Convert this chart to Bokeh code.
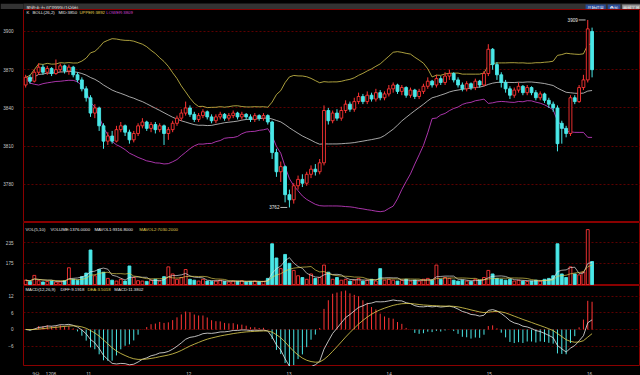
import numpy as np
import pandas as pd
from bokeh.plotting import figure
from bokeh.layouts import column
from bokeh.models import Range1d, FixedTicker
from bokeh.core.properties import value
from bokeh.embed import file_html
from bokeh.resources import INLINE

# ---------------- data (bars) ----------------
opens = [3858, 3864, 3861, 3868, 3872, 3868, 3871, 3867, 3870, 3873, 3869, 3872, 3866, 3862, 3855, 3848, 3836, 3840, 3826, 3814,
         3818, 3814, 3823, 3826, 3821, 3815, 3820, 3826, 3829, 3824, 3827, 3823, 3826, 3820, 3823, 3828, 3832, 3836, 3840, 3835,
         3831, 3834, 3837, 3833, 3830, 3833, 3835, 3832, 3834, 3836, 3833, 3835, 3833, 3831, 3834, 3832, 3834, 3829, 3805, 3790,
         3794, 3772, 3768, 3779, 3784, 3781, 3788, 3792, 3790, 3797, 3838, 3830, 3836, 3832, 3838, 3843, 3839, 3845, 3849, 3845,
         3850, 3847, 3852, 3848, 3851, 3855, 3858, 3853, 3856, 3850, 3854, 3849, 3853, 3857, 3861, 3858, 3863, 3860, 3865, 3867,
         3862, 3858, 3855, 3859, 3856, 3861, 3858, 3867, 3886, 3874, 3866, 3860, 3855, 3850, 3854, 3857, 3852, 3856, 3852, 3848,
         3851, 3846, 3843, 3840, 3828, 3824, 3820, 3848, 3845, 3856, 3862, 3900]
closes = [3864, 3861, 3868, 3872, 3868, 3871, 3867, 3870, 3873, 3869, 3872, 3866, 3862, 3855, 3848, 3836, 3840, 3826, 3814, 3818,
          3814, 3823, 3826, 3821, 3815, 3820, 3826, 3829, 3824, 3827, 3823, 3826, 3820, 3823, 3828, 3832, 3836, 3840, 3835, 3831,
          3834, 3837, 3833, 3830, 3833, 3835, 3832, 3834, 3836, 3833, 3835, 3833, 3831, 3834, 3832, 3834, 3829, 3805, 3790, 3794,
          3772, 3768, 3779, 3784, 3781, 3788, 3792, 3790, 3797, 3838, 3830, 3836, 3832, 3838, 3843, 3839, 3845, 3849, 3845, 3850,
          3847, 3852, 3848, 3851, 3855, 3858, 3853, 3856, 3850, 3854, 3849, 3853, 3857, 3861, 3858, 3863, 3860, 3865, 3867, 3862,
          3858, 3855, 3859, 3856, 3861, 3858, 3867, 3886, 3874, 3866, 3860, 3855, 3850, 3854, 3857, 3852, 3856, 3852, 3848, 3851,
          3846, 3843, 3840, 3812, 3824, 3820, 3848, 3845, 3856, 3862, 3902, 3870]
highs = [3866, 3866, 3870, 3875, 3874, 3873, 3872, 3878, 3875, 3874, 3874, 3873, 3868, 3864, 3857, 3850, 3843, 3841, 3828, 3821,
         3822, 3826, 3829, 3827, 3823, 3822, 3828, 3832, 3830, 3829, 3829, 3828, 3827, 3825, 3830, 3834, 3839, 3845, 3842, 3837,
         3836, 3839, 3838, 3835, 3835, 3837, 3836, 3836, 3838, 3837, 3837, 3836, 3835, 3836, 3835, 3836, 3835, 3830, 3808, 3798,
         3795, 3776, 3781, 3787, 3788, 3790, 3795, 3796, 3800, 3842, 3840, 3838, 3839, 3841, 3846, 3845, 3848, 3852, 3851, 3853,
         3852, 3855, 3854, 3853, 3858, 3860, 3859, 3858, 3857, 3856, 3855, 3855, 3859, 3864, 3862, 3866, 3865, 3868, 3870, 3868,
         3864, 3860, 3861, 3860, 3863, 3862, 3869, 3890, 3887, 3876, 3868, 3862, 3857, 3856, 3860, 3858, 3858, 3857, 3854, 3853,
         3852, 3848, 3845, 3842, 3830, 3826, 3850, 3850, 3858, 3866, 3909, 3903]
lows = [3856, 3859, 3860, 3866, 3866, 3866, 3865, 3866, 3868, 3867, 3866, 3864, 3860, 3853, 3845, 3833, 3832, 3822, 3808, 3811,
        3812, 3813, 3821, 3818, 3812, 3813, 3818, 3824, 3822, 3821, 3820, 3821, 3811, 3815, 3821, 3826, 3830, 3834, 3833, 3829,
        3829, 3832, 3831, 3828, 3828, 3831, 3830, 3830, 3832, 3831, 3831, 3831, 3829, 3829, 3830, 3830, 3827, 3800, 3786, 3782,
        3766, 3762, 3765, 3776, 3778, 3779, 3785, 3787, 3788, 3795, 3827, 3828, 3830, 3830, 3836, 3837, 3837, 3843, 3843, 3843,
        3845, 3845, 3846, 3846, 3849, 3852, 3851, 3850, 3848, 3848, 3847, 3847, 3851, 3855, 3856, 3856, 3858, 3858, 3862, 3860,
        3856, 3853, 3853, 3854, 3854, 3856, 3857, 3865, 3870, 3862, 3856, 3852, 3847, 3848, 3852, 3850, 3850, 3850, 3846, 3846,
        3844, 3840, 3837, 3806, 3812, 3817, 3818, 3843, 3844, 3854, 3860, 3864]
volumes = [2500, 1800, 5200, 2200, 1500, 1800, 2000, 1400, 1600, 2200, 9500, 3000, 2500, 4500, 6500, 19500, 5000, 8500, 7000, 3500,
           2500, 2000, 3000, 2000, 10500, 4000, 2200, 2000, 1800, 2500, 3000, 2000, 4500, 10000, 6000, 3000, 4000, 8500, 3000, 2500,
           2000, 3000, 2000, 1800, 2000, 2500, 1800, 1500, 2000, 1800, 2200, 1500, 1800, 2000, 1500, 1800, 3500, 23000, 15000, 9000,
           17000, 12000, 8000, 5000, 4000, 3000, 6000, 3500, 4000, 11000, 7000, 3000, 4000, 2500, 3000, 2000, 2500, 3500, 2000, 2500,
           3000, 2000, 9000, 2500, 3000, 2500, 2000, 2500, 3000, 2000, 2500, 2000, 3000, 3500, 2500, 11000, 3000, 4000, 3500, 2500,
           2000, 2500, 2000, 1800, 3000, 2500, 4000, 8000, 6000, 3500, 3000, 2500, 3000, 2000, 2500, 2000, 1800, 2000, 2500, 2000,
           3000, 3500, 5000, 23000, 6000, 4000, 10000, 6000, 5500, 7000, 31000, 13000]

price_ticks = [3780, 3810, 3840, 3870, 3900]
vol_ticks = [12000, 23600]
vol_tick_labels = ["175", "235"]
macd_ticks = [-6, 0, 6, 12]
time_tick_pos = [1, 10, 34, 58, 82, 106, 130]
time_tick_labels = ["1208", "11", "12", "13", "14", "15", "16"]
corner_label = "9分"
title_text = "股指主力 (IC0999)(1分钟)"
tab_texts = ["品种信息", "叠加", "画线工具"]
boll_legend = ["K", "BOLL(26,2)", "MID:3850", "UPPER:3892", "LOWER:3809"]
vol_legend = ["VOL(5,10)", "VOLUME:1376.0000", "MAVOL1:9316.8000", "MAVOL2:7030.2000"]
macd_legend = ["MACD(12,26,9)", "DIFF:9.1918", "DEA:3.5018", "MACD:11.3802"]

# ---------------- indicators derived from the bars ----------------
idx = np.arange(len(closes))
c = pd.Series(closes, dtype=float)
mid = c.rolling(26, min_periods=1).mean()
sd = c.rolling(26, min_periods=1).std(ddof=0)
upper = mid + 2 * sd
lower = mid - 2 * sd
v = pd.Series(volumes, dtype=float)
mavol1 = v.rolling(5, min_periods=1).mean()
mavol2 = v.rolling(10, min_periods=1).mean()
ema12 = c.ewm(span=12, adjust=False).mean()
ema26 = c.ewm(span=26, adjust=False).mean()
diff = ema12 - ema26
dea = diff.ewm(span=9, adjust=False).mean()
macd = 2 * (diff - dea)

# ---------------- style ----------------
RED = "#ff3434"
CYAN = "#4ae8e8"
FRAME = "#8a0000"
GRID = "#5c0000"
TXT = "#c8c8c8"
WHITE = "#e8e8e8"
YEL = "#e0d050"
MAG = "#d040d0"
FONT = "Liberation Sans"
CJK = "Noto Sans CJK SC"
FS = "4.6px"
LFS = "4.3px"
W = 640
LEFT = 22
BAR_PX = 618 / 142.7

up = [cl >= op for op, cl in zip(opens, closes)]
col = [RED if u else CYAN for u in up]
fill = ["black" if u else CYAN for u in up]

x_range = Range1d(-0.5, 142.2)


def xi(px):
    return (px - LEFT) / BAR_PX - 0.5


def style(p):
    p.background_fill_color = "black"
    p.border_fill_color = "black"
    p.outline_line_color = FRAME
    p.outline_line_width = 1
    p.min_border_left = LEFT
    p.min_border_right = 0
    p.min_border_top = 0
    p.xgrid.visible = False
    p.ygrid.grid_line_color = GRID
    p.ygrid.grid_line_dash = "2 2"
    p.yaxis.axis_line_color = None
    p.yaxis.major_tick_line_color = None
    p.yaxis.minor_tick_line_color = None
    p.yaxis.major_label_text_color = TXT
    p.yaxis.major_label_text_font = FONT
    p.yaxis.major_label_text_font_size = FS
    p.yaxis.major_label_standoff = 4


def legend_row(p, texts, xs_px, colors, yv):
    p.text(x=[xi(q) for q in xs_px], y=[yv] * len(texts), text=texts, text_color=colors,
           text_font=value(FONT), text_font_size=LFS, text_baseline="middle", text_align="left")


def strip(height, xr, bg):
    s = figure(width=W, height=height, x_range=xr, y_range=Range1d(0, height), title=None,
               x_axis_location=None, y_axis_location=None, toolbar_location=None,
               output_backend="svg", min_border=0)
    s.background_fill_color = bg
    s.border_fill_color = bg
    s.outline_line_color = None
    s.grid.visible = False
    return s


# ---------------- header strip ----------------
hdr = strip(9, Range1d(0, 640), "#333333")
hdr.quad(left=[583, 606, 621], right=[604, 619, 640], bottom=[1, 1, 1], top=[8, 8, 8],
         fill_color=["#2a4c96", "#2a4c96", "#909090"], line_color=None)
hdr.text(x=[3], y=[4.5], text=[title_text], text_color="#e8e8e8", text_font=value(CJK),
         text_font_size="4.6px", text_baseline="middle")
hdr.text(x=[593.5, 612.5, 630.5], y=[4.5, 4.5, 4.5], text=tab_texts, text_color="#f4f4f4",
         text_font=value(CJK), text_font_size="4.2px", text_baseline="middle", text_align="center")

# ---------------- price panel ----------------
pp = figure(width=W, height=213, x_range=x_range, y_range=Range1d(3750.2, 3917.2), title=None,
            x_axis_location=None, toolbar_location=None, output_backend="svg", min_border_bottom=0)
style(pp)
pp.yaxis.ticker = FixedTicker(ticks=price_ticks)
pp.ygrid.ticker = FixedTicker(ticks=price_ticks)
pp.line(idx, upper, color=YEL, line_width=0.9, alpha=0.85)
pp.line(idx, mid, color=WHITE, line_width=0.9, alpha=0.8)
pp.line(idx, lower, color=MAG, line_width=0.9, alpha=0.9)
pp.segment(x0=idx, y0=lows, x1=idx, y1=highs, color=col, line_width=1)
pp.vbar(x=idx, width=0.66, top=np.maximum(opens, closes), bottom=np.minimum(opens, closes),
        fill_color=fill, line_color=col, line_width=0.9)
legend_row(pp, boll_legend, [25, 31, 57, 78, 105], [WHITE, WHITE, WHITE, YEL, MAG], 3914.6)
imax = int(np.argmax(highs))
imin = int(np.argmin(lows))
pp.text(x=[imax - 2.3, imin - 2.3], y=[highs[imax], lows[imin]], text=[str(highs[imax]), str(lows[imin])],
        text_color=WHITE, text_font=value(FONT), text_font_size="4.6px", text_baseline="middle", text_align="right")
pp.segment(x0=[imax - 2.1, imin - 2.1], y0=[highs[imax], lows[imin]], x1=[imax - 0.5, imin - 0.5],
           y1=[highs[imax], lows[imin]], color=WHITE, line_width=0.8)

# ---------------- volume panel ----------------
vp = figure(width=W, height=63, x_range=x_range, y_range=Range1d(-500, 35000), title=None,
            x_axis_location=None, toolbar_location=None, output_backend="svg", min_border_bottom=0)
style(vp)
vp.yaxis.ticker = FixedTicker(ticks=vol_ticks)
vp.ygrid.ticker = FixedTicker(ticks=vol_ticks)
vp.yaxis.major_label_overrides = {t: s for t, s in zip(vol_ticks, vol_tick_labels)}
vp.vbar(x=idx, width=0.66, top=volumes, bottom=0, fill_color=fill, line_color=col, line_width=0.9)
vp.line(idx, mavol1, color=WHITE, line_width=0.8, alpha=0.85)
vp.line(idx, mavol2, color=YEL, line_width=0.8, alpha=0.85)
legend_row(vp, vol_legend, [24, 49, 93, 138], [WHITE, WHITE, WHITE, YEL], 31000)

# ---------------- MACD panel ----------------
mp = figure(width=W, height=81, x_range=x_range, y_range=Range1d(-13.3, 15.8), title=None,
            x_axis_location=None, toolbar_location=None, output_backend="svg", min_border_bottom=0)
style(mp)
mp.yaxis.ticker = FixedTicker(ticks=macd_ticks)
mp.ygrid.ticker = FixedTicker(ticks=macd_ticks)
hist_col = [RED if m >= 0 else CYAN for m in macd]
mp.segment(x0=idx, y0=0, x1=idx, y1=macd, color=hist_col, line_width=1)
mp.line(idx, diff, color=WHITE, line_width=0.9, alpha=0.9)
mp.line(idx, dea, color=YEL, line_width=0.9, alpha=0.9)
legend_row(mp, macd_legend, [24, 59, 86, 113], [WHITE, WHITE, YEL, WHITE], 14.4)

# ---------------- time scale strip (same bar-index scale, extended over the left margin) ----------------
ts = strip(9, Range1d(xi(0), xi(640)), "black")
ts.text(x=time_tick_pos, y=[4.5] * len(time_tick_pos), text=time_tick_labels, text_color=TXT,
        text_font=value(FONT), text_font_size=FS, text_baseline="middle", text_align="center")
ts.text(x=[xi(13)], y=[4.5], text=[corner_label], text_color=TXT,
        text_font=value(CJK), text_font_size=FS, text_baseline="middle", text_align="center")

layout = column(hdr, pp, vp, mp, ts, spacing=0)
layout.styles = {"background-color": "black"}

with open("out.html", "w") as f:
    f.write(file_html(layout, INLINE))
